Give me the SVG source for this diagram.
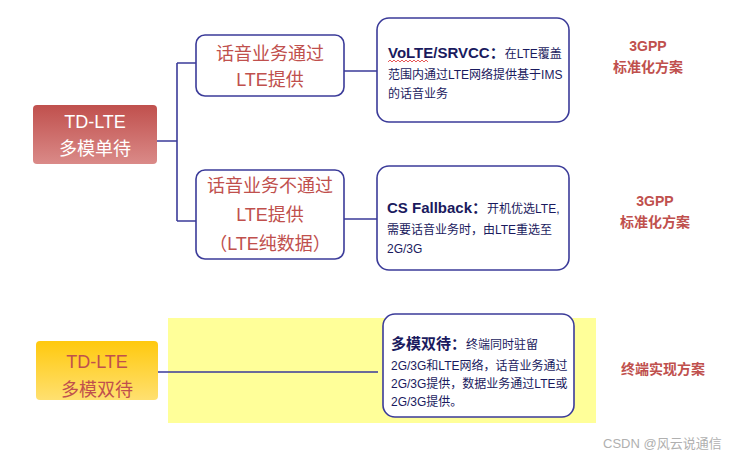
<svg xmlns="http://www.w3.org/2000/svg" width="729" height="457" viewBox="0 0 729 457">
<defs>
<linearGradient id="gRed" x1="0" y1="0" x2="0" y2="1"><stop offset="0" stop-color="#c0504d"/><stop offset="1" stop-color="#da8a88"/></linearGradient>
<linearGradient id="gYel" x1="0" y1="0" x2="0" y2="1"><stop offset="0" stop-color="#ffc90e"/><stop offset="1" stop-color="#ffe070"/></linearGradient>
<style>
text{font-family:"Liberation Sans","Noto Sans CJK SC",sans-serif}
.big{font-size:18px;text-anchor:middle}
.red{fill:#c0504d}
.box{fill:#fff;stroke:#3b3b99;stroke-width:1.6}
.conn{stroke:#3b3b99;stroke-width:1.6;fill:none}
.ttl{font-size:15px;font-weight:bold;fill:#1a1a5e}
.sm{font-size:12px;fill:#1a1a5e}
.lab{font-size:14px;font-weight:bold;fill:#c0504d;text-anchor:middle}
</style>
</defs>
<rect x="168" y="318" width="428" height="105" fill="#ffff99"/>
<g id="connectors">
<path class="conn" d="M157 141 H177 M177 63 V221 M177 63 H196 M177 221 H196 M344 71 H377 M344 219 H377 M158 372 H378"/>
</g>
<g id="n-single">
<rect x="33" y="105" width="124" height="59" rx="4" fill="url(#gRed)"/>
<text class="big" x="95" y="128" fill="#fff">TD-LTE</text>
<text class="big" x="95" y="155" fill="#fff">多模单待</text>
</g>
<g id="n-voice-lte">
<rect class="box" x="196" y="35" width="148" height="61" rx="9"/>
<text class="big red" x="270" y="60">话音业务通过</text>
<text class="big red" x="270" y="86">LTE提供</text>
</g>
<g id="n-voice-nolte">
<rect class="box" x="196" y="170" width="148" height="89" rx="9"/>
<text class="big red" x="270" y="192">话音业务不通过</text>
<text class="big red" x="270" y="221">LTE提供</text>
<text class="big red" x="270" y="250">（LTE纯数据）</text>
</g>
<g id="n-volte">
<rect class="box" x="377" y="18" width="192" height="104" rx="12"/>
<text x="388" y="58"><tspan class="ttl">VoLTE/SRVCC：</tspan><tspan class="sm">在LTE覆盖</tspan></text>
<path d="M388 62 l2 -2 l2 2 l2 -2 l2 2 l2 -2 l2 2 l2 -2 l2 2 l2 -2 l2 2 l2 -2 l2 2 l2 -2 l2 2 l2 -2 l2 2 l2 -2 l2 2 l2 -2 l2 2" fill="none" stroke="#e03030" stroke-width="0.8"/>
<text class="sm" x="388" y="79">范围内通过LTE网络提供基于IMS</text>
<text class="sm" x="388" y="98">的话音业务</text>
</g>
<g id="n-csfb">
<rect class="box" x="377" y="166" width="192" height="104" rx="12"/>
<text x="387" y="213"><tspan class="ttl">CS Fallback：</tspan><tspan class="sm">开机优选LTE,</tspan></text>
<text class="sm" x="387" y="234">需要话音业务时，由LTE重选至</text>
<text class="sm" x="387" y="253">2G/3G</text>
</g>
<g id="n-dual">
<rect x="36" y="341" width="122" height="59" rx="4" fill="url(#gYel)"/>
<text class="big red" x="97" y="368">TD-LTE</text>
<text class="big red" x="97" y="396">多模双待</text>
</g>
<g id="n-dualdesc">
<rect class="box" x="383" y="314" width="191" height="103" rx="12"/>
<text x="391" y="349"><tspan class="ttl">多模双待：</tspan><tspan class="sm">终端同时驻留</tspan></text>
<text class="sm" x="391" y="370">2G/3G和LTE网络，话音业务通过</text>
<text class="sm" x="391" y="388">2G/3G提供，数据业务通过LTE或</text>
<text class="sm" x="391" y="406">2G/3G提供。</text>
</g>
<g id="labels">
<text class="lab" x="648" y="51">3GPP</text>
<text class="lab" x="648" y="72">标准化方案</text>
<text class="lab" x="655" y="206">3GPP</text>
<text class="lab" x="655" y="227">标准化方案</text>
<text class="lab" x="663" y="374">终端实现方案</text>
</g>
<text x="603" y="448" font-size="13" fill="#b0b0b0">CSDN @风云说通信</text>
</svg>
